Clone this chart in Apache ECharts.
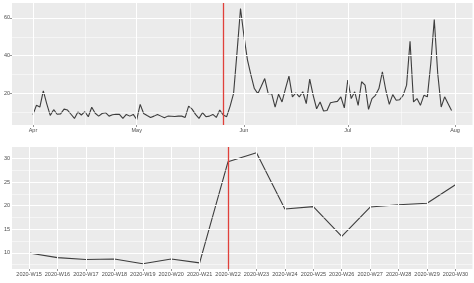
<!DOCTYPE html>
<html><head><meta charset="utf-8">
<script src="https://cdn.jsdelivr.net/npm/echarts@6/dist/echarts.min.js"></script>
<style>html,body{margin:0;padding:0;background:#fff}#c{width:474px;height:283px}</style>
</head><body><div id="c"></div>
<script>
// ---- data ----
const firstDay = '2020-04-01';
const dailyValues = [
  8.7, 13.7, 12.8, 21.4, 14.5, 8.4, 11.4, 9.0, 9.2, 11.7,
  11.2, 9.0, 6.8, 10.2, 8.6, 10.4, 7.7, 12.7, 9.5, 8.0,
  9.4, 9.8, 8.0, 8.7, 9.0, 8.9, 6.8, 8.9, 8.0, 8.9,
  6.2, 14.2, 9.4, 8.3, 7.3, 8.0, 8.9, 8.0, 7.1, 8.0,
  7.9, 7.8, 8.0, 8.0, 7.3, 13.3, 11.7, 8.9, 6.8, 9.8,
  7.7, 8.0, 8.9, 7.3, 11.2, 8.6, 7.7, 13.3, 20.1, 42.0,
  65.0, 50.3, 37.8, 29.8, 22.6, 19.9, 23.8, 27.9, 19.9, 19.9,
  12.8, 19.6, 15.5, 22.6, 29.2, 18.2, 20.3, 18.2, 20.9, 14.6,
  27.6, 19.0, 11.9, 15.5, 10.7, 11.0, 15.1, 15.5, 15.8, 18.2,
  12.4, 27.1, 17.3, 20.9, 13.7, 26.2, 24.4, 11.6, 17.3, 19.0,
  22.6, 31.5, 21.7, 14.2, 19.4, 16.4, 16.7, 19.0, 24.4, 47.6,
  15.5, 17.3, 13.7, 19.0, 18.2, 36.0, 59.2, 30.6, 12.8, 18.2,
  14.6, 11.0
];
const interventionDay = '2020-05-26';
const monthTicks = ['2020-04-01', '2020-05-01', '2020-06-01', '2020-07-01', '2020-08-01'];
const monthLabels = ['Apr', 'May', 'Jun', 'Jul', 'Aug'];
const monthMinorTicks = ['2020-04-16T00:00:00Z', '2020-05-16T12:00:00Z', '2020-06-16T00:00:00Z', '2020-07-16T12:00:00Z'];
const dailyMajorY = [20, 40, 60];
const dailyMinorY = [10, 30, 50];

const weeks = ['2020-W15', '2020-W16', '2020-W17', '2020-W18', '2020-W19', '2020-W20', '2020-W21', '2020-W22',
               '2020-W23', '2020-W24', '2020-W25', '2020-W26', '2020-W27', '2020-W28', '2020-W29', '2020-W30'];
const weeklyValues = [10.0, 9.0, 8.6, 8.7, 7.7, 8.7, 7.9, 29.3, 31.2, 19.3, 19.8, 13.5, 19.7, 20.2, 20.5, 24.4];
const interventionWeek = '2020-W22';
const weeklyMajorY = [10, 15, 20, 25, 30];
const weeklyMinorY = [7.5, 12.5, 17.5, 22.5, 27.5];

// ---- build ----
const DAY = 86400000;
const t0 = Date.parse(firstDay);
const dailyData = dailyValues.map((v, i) => [t0 + i * DAY, v]);
const weekIdx = weeks.map((w, i) => i);
const weeklyData = weeklyValues.map((v, i) => [i, v]);
const monthTickVals = monthTicks.map(d => Date.parse(d));
const monthMinorVals = monthMinorTicks.map(d => Date.parse(d));

const FONT = 'Liberation Sans, Arial, sans-serif';
const labelStyle = { fontSize: 5.5, color: '#4d4d4d', fontFamily: FONT, margin: 2 };
const tickStyle = { show: true, length: 2, lineStyle: { color: '#4d4d4d', width: 0.6 } };
const RED = '#e0403a';
const LINE = '#3d3d3d';

function gridLines(xMajor, xMinor, yMajor, yMinor) {
  const d = [];
  yMinor.forEach(v => d.push({ yAxis: v, lineStyle: { color: '#fff', width: 0.5, type: 'solid' } }));
  xMinor.forEach(v => d.push({ xAxis: v, lineStyle: { color: '#fff', width: 0.5, type: 'solid' } }));
  yMajor.forEach(v => d.push({ yAxis: v, lineStyle: { color: '#fff', width: 1, type: 'solid' } }));
  xMajor.forEach(v => d.push({ xAxis: v, lineStyle: { color: '#fff', width: 1, type: 'solid' } }));
  return { symbol: ['none', 'none'], silent: true, label: { show: false }, animation: false,
    lineStyle: { color: '#fff', type: 'solid' }, data: d };
}
function redLine(x) {
  return { symbol: ['none', 'none'], silent: true, label: { show: false }, animation: false,
    lineStyle: { color: RED, width: 1.3, type: 'solid' }, data: [{ xAxis: x }] };
}

const chart = echarts.init(document.getElementById('c'), null, { renderer: 'canvas' });
chart.setOption({
  animation: false,
  backgroundColor: '#ffffff',
  grid: [
    { left: 12, right: 1.5, top: 3, bottom: 158, show: true, backgroundColor: '#EBEBEB', borderWidth: 0 },
    { left: 12, right: 1.5, top: 147, bottom: 14, show: true, backgroundColor: '#EBEBEB', borderWidth: 0 }
  ],
  xAxis: [
    { type: 'value', gridIndex: 0, min: t0 - 6.05 * DAY, max: t0 + 127.05 * DAY,
      axisLine: { show: false }, splitLine: { show: false },
      axisTick: Object.assign({ customValues: monthTickVals }, tickStyle),
      axisLabel: Object.assign({ customValues: monthTickVals,
        formatter: v => monthLabels[monthTickVals.indexOf(v)] || '' }, labelStyle) },
    { type: 'value', gridIndex: 1, min: -0.6, max: weeks.length - 1 + 0.6,
      axisLine: { show: false }, splitLine: { show: false },
      axisTick: Object.assign({ customValues: weekIdx }, tickStyle),
      axisLabel: Object.assign({ customValues: weekIdx, formatter: v => weeks[Math.round(v)] || '' }, labelStyle) }
  ],
  yAxis: [
    { type: 'value', gridIndex: 0, min: 3.3, max: 67.9,
      axisLine: { show: false }, splitLine: { show: false },
      axisTick: Object.assign({ customValues: dailyMajorY }, tickStyle),
      axisLabel: Object.assign({ customValues: dailyMajorY }, labelStyle) },
    { type: 'value', gridIndex: 1, min: 6.6, max: 32.4,
      axisLine: { show: false }, splitLine: { show: false },
      axisTick: Object.assign({ customValues: weeklyMajorY }, tickStyle),
      axisLabel: Object.assign({ customValues: weeklyMajorY }, labelStyle) }
  ],
  series: [
    { type: 'line', xAxisIndex: 0, yAxisIndex: 0, z: 1, data: dailyData, showSymbol: false,
      lineStyle: { opacity: 0 }, silent: true,
      markLine: gridLines(monthTickVals, monthMinorVals, dailyMajorY, dailyMinorY) },
    { type: 'line', xAxisIndex: 0, yAxisIndex: 0, z: 3, data: dailyData, showSymbol: false,
      lineStyle: { color: LINE, width: 1.1 }, itemStyle: { color: LINE } },
    { type: 'line', xAxisIndex: 0, yAxisIndex: 0, z: 4, data: [], showSymbol: false, silent: true,
      itemStyle: { color: RED }, markLine: redLine(Date.parse(interventionDay)) },
    { type: 'line', xAxisIndex: 1, yAxisIndex: 1, z: 1, data: weeklyData, showSymbol: false,
      lineStyle: { opacity: 0 }, silent: true,
      markLine: gridLines(weekIdx, [], weeklyMajorY, weeklyMinorY) },
    { type: 'line', xAxisIndex: 1, yAxisIndex: 1, z: 3, data: weeklyData, showSymbol: false,
      lineStyle: { color: LINE, width: 1.1 }, itemStyle: { color: LINE } },
    { type: 'line', xAxisIndex: 1, yAxisIndex: 1, z: 4, data: [], showSymbol: false, silent: true,
      itemStyle: { color: RED }, markLine: redLine(weeks.indexOf(interventionWeek)) }
  ]
});
</script>
</body></html>
